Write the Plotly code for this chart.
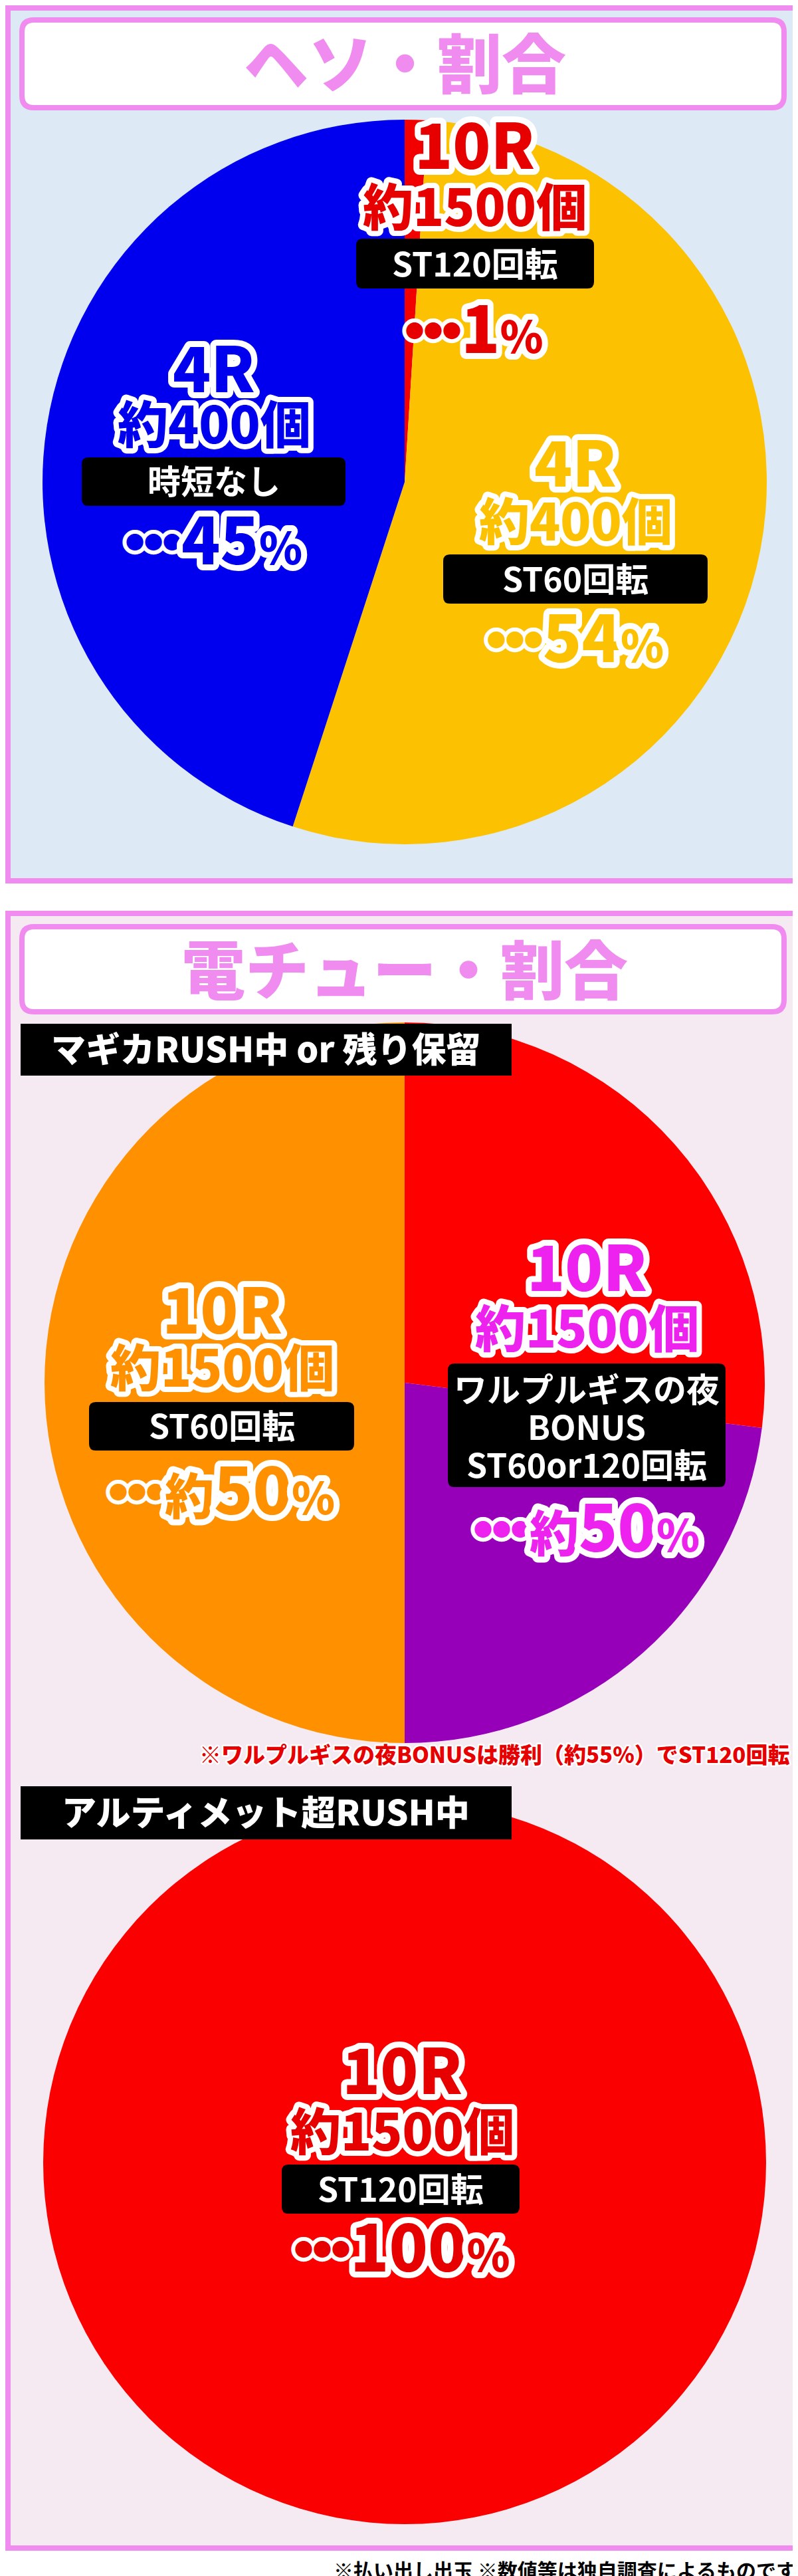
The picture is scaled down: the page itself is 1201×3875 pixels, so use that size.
import plotly.graph_objects as go

W = 1201
H = 3875
FONT = "Noto Sans CJK JP"
PINK = "#f08cf0"

# ヘソ
heso_names = ["10R ST120回転", "4R ST60回転", "4R 時短なし"]
heso_values = [1, 54, 45]
heso_colors = ["#f20000", "#fcc100", "#0000ee"]
heso_rounds = ["10R", "4R", "4R"]
heso_counts = ["約1500個", "約400個", "約400個"]
heso_st = [["ST120回転"], ["ST60回転"], ["時短なし"]]
heso_pct = ["1%", "54%", "45%"]
heso_text_colors = ["#e60000", "#fcc100", "#0000ee"]

# 電チュー (マギカRUSH中 or 残り保留)
denchu_names = ["ワルプルギスの夜BONUS 勝利", "ワルプルギスの夜BONUS 敗北", "10R ST60回転"]
denchu_values = [27, 23, 50]
denchu_colors = ["#ff0000", "#9600b9", "#ff9100"]
denchu_rounds = ["10R", "10R"]
denchu_counts = ["約1500個", "約1500個"]
denchu_st = [["ワルプルギスの夜", "BONUS", "ST60or120回転"], ["ST60回転"]]
denchu_pct = ["約50%", "約50%"]
denchu_text_colors = ["#ee22ee", "#ff9100"]

# アルティメット超RUSH中
ult_names = ["10R ST120回転"]
ult_values = [100]
ult_colors = ["#fa0000"]
ult_rounds = ["10R"]
ult_counts = ["約1500個"]
ult_st = [["ST120回転"]]
ult_pct = ["100%"]
ult_text_colors = ["#e60000"]

titles = ["ヘソ・割合", "電チュー・割合"]
headers = ["マギカRUSH中 or 残り保留", "アルティメット超RUSH中"]
note = "※ワルプルギスの夜BONUSは勝利（約55%）でST120回転"
footer = "※払い出し出玉 ※数値等は独自調査によるものです"


def pie_domain(cx, cy, r):
    return dict(x=[(cx - r) / W, (cx + r) / W], y=[1 - (cy + r) / H, 1 - (cy - r) / H])


def rounded(x0, y0, x1, y1, r=10):
    return (f"M {x0+r},{y0} L {x1-r},{y0} Q {x1},{y0} {x1},{y0+r} "
            f"L {x1},{y1-r} Q {x1},{y1} {x1-r},{y1} L {x0+r},{y1} "
            f"Q {x0},{y1} {x0},{y1-r} L {x0},{y0+r} Q {x0},{y0} {x0+r},{y0} Z")


def stroke(txt, size=None, w=18, extra=""):
    st = f"stroke:white;stroke-width:{w}px;paint-order:stroke;stroke-linejoin:round"
    if size:
        st += f";font-size:{size}px"
    return f"<span style='{st}{extra}'>{txt}</span>"


def pct_text(p):
    out = stroke("●●●", 28, 12, ";baseline-shift:22px")
    if p.startswith("約"):
        out += stroke("約", 74)
        p = p[1:]
    return out + stroke(p[:-1]) + stroke("%", 66)


def text(fig, x, y, t, size, color, anchor="center", weight=900):
    # nudge up: glyphs sit a bit below the centre of the font box
    fig.add_annotation(x=x, y=y - 0.07 * size, xref="x", yref="y", text=t, showarrow=False,
                       xanchor=anchor, yanchor="middle",
                       font=dict(family=FONT, size=size, color=color, weight=weight))


def slice_label(fig, cx, ys, box, color, rnd, cnt, st, pct):
    text(fig, cx, ys[0], stroke(rnd), 94, color)
    text(fig, cx, ys[1], stroke(cnt, None, 16), 76, color)
    fig.add_shape(type="path", path=rounded(*box), fillcolor="black",
                  line_width=0, layer="above", xref="x", yref="y")
    for line, yy in zip(st, ys[2]):
        text(fig, (box[0] + box[2]) / 2, yy, line, 50, "white", weight="bold")
    text(fig, cx, ys[3], pct_text(pct), 96, color)


fig = go.Figure()

fig.add_trace(go.Pie(labels=heso_names, values=heso_values, marker=dict(colors=heso_colors, line_width=0),
                     sort=False, direction="clockwise", rotation=0, textinfo="none",
                     hoverinfo="skip", showlegend=False, domain=pie_domain(601, 717, 545)))
fig.add_trace(go.Pie(labels=denchu_names, values=denchu_values, marker=dict(colors=denchu_colors, line_width=0),
                     sort=False, direction="clockwise", rotation=0, textinfo="none",
                     hoverinfo="skip", showlegend=False, domain=pie_domain(601, 2072, 542)))
fig.add_trace(go.Pie(labels=ult_names, values=ult_values, marker=dict(colors=ult_colors, line_width=0),
                     sort=False, direction="clockwise", rotation=0, textinfo="none",
                     hoverinfo="skip", showlegend=False, domain=pie_domain(601, 3245, 544)))

# panels
fig.add_shape(type="rect", x0=4, y0=4, x1=1197, y1=1317, fillcolor="#dde9f4",
              line=dict(color=PINK, width=8), layer="below", xref="x", yref="y")
fig.add_shape(type="rect", x0=4, y0=1366, x1=1197, y1=3825, fillcolor="#f6eaf2",
              line=dict(color=PINK, width=8), layer="below", xref="x", yref="y")
for y0, y1 in [(22, 154), (1386, 1514)]:
    fig.add_shape(type="path", path=rounded(25, y0, 1172, y1, 18), fillcolor="white",
                  line=dict(color=PINK, width=8), layer="below", xref="x", yref="y")
text(fig, 601, 88, titles[0], 97, PINK)
text(fig, 601, 1452, titles[1], 96, PINK)

for (y0, y1), h in zip([(1532, 1610), (2679, 2759)], headers):
    fig.add_shape(type="rect", x0=23, y0=y0, x1=762, y1=y1, fillcolor="black",
                  line_width=0, layer="above", xref="x", yref="y")
    text(fig, 392, (y0 + y1) / 2, h, 52, "white")

# ヘソ labels
slice_label(fig, 706, [212, 304, [389], 488], (528, 351, 886, 426),
            heso_text_colors[0], heso_rounds[0], heso_counts[0], heso_st[0], heso_pct[0])
slice_label(fig, 858, [690, 777, [863], 953], (659, 826, 1057, 900),
            heso_text_colors[1], heso_rounds[1], heso_counts[1], heso_st[1], heso_pct[1])
slice_label(fig, 314, [548, 631, [716], 806], (115, 680, 512, 753),
            heso_text_colors[2], heso_rounds[2], heso_counts[2], heso_st[2], heso_pct[2])

# 電チュー labels
slice_label(fig, 875, [1900, 1991, [2082, 2139, 2196], 2291], (666, 2043, 1084, 2229),
            denchu_text_colors[0], denchu_rounds[0], denchu_counts[0], denchu_st[0], denchu_pct[0])
slice_label(fig, 326, [1964, 2050, [2137], 2235], (126, 2101, 525, 2174),
            denchu_text_colors[1], denchu_rounds[1], denchu_counts[1], denchu_st[1], denchu_pct[1])

text(fig, 1182, 2632, stroke(note, None, 5), 33, "#e60000", anchor="right")

# アルティメット labels
slice_label(fig, 597, [3108, 3199, [3285], 3374], (416, 3248, 774, 3322),
            ult_text_colors[0], ult_rounds[0], ult_counts[0], ult_st[0], ult_pct[0])

text(fig, 1192, 3859, footer, 30, "black", anchor="right", weight="bold")

fig.update_xaxes(range=[0, W], visible=False, fixedrange=True)
fig.update_yaxes(range=[H, 0], visible=False, fixedrange=True)
fig.update_layout(width=W, height=H, margin=dict(l=0, r=0, t=0, b=0),
                  paper_bgcolor="white", plot_bgcolor="white", font=dict(family=FONT))

fig.write_html("out.html")
